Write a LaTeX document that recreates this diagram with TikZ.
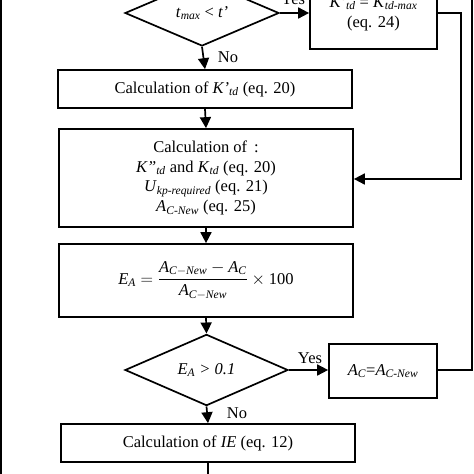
\documentclass[tikz,border=0pt]{standalone}
\usepackage{amsmath}
\usepackage{fontspec}
\setmainfont{Liberation Serif}
\usetikzlibrary{shapes.geometric,arrows.meta}
\newcommand{\sbi}[1]{\textsubscript{\textit{#1}}}
\begin{document}
\begin{tikzpicture}[x=1pt,y=1pt,
  txt/.style={font=\fontsize{16.5}{19.7}\selectfont},
  box/.style={txt,draw,line width=1.7pt,rectangle,inner sep=0pt,align=center},
  dia/.style={txt,draw,line width=1.7pt,diamond,inner sep=0pt,align=center},
  arr/.style={line width=1.7pt,-{Triangle[length=11pt,width=11pt]}},
  ln/.style={line width=1.7pt},
  lbl/.style={txt,inner sep=0pt}]
\useasboundingbox (0,0) rectangle (474,-474);
\clip (0,0) rectangle (474,-474);
% nodes
\node[dia,minimum width=154pt,minimum height=64pt] (d1) at (202,-13) {\textit{t}\sbi{max} < \textit{t'}};
\node[box,minimum width=127pt,minimum height=71pt] (kmax) at (373.5,-13.5) {\textit{K'}\sbi{td} = \textit{K}\sbi{td-max}\\(eq. 24)};
\node[box,minimum width=294pt,minimum height=38pt] (b1) at (205,-89) {Calculation of \textit{K'}\sbi{td} (eq. 20)};
\node[box,minimum width=294pt,minimum height=98pt] (b2) at (206,-178) {Calculation of \,:\\\textit{K"}\sbi{td} and \textit{K}\sbi{td} (eq. 20)\\\textit{U}\sbi{kp-required} (eq. 21)\\\textit{A}\sbi{C-New} (eq. 25)};
\node[box,minimum width=294pt,minimum height=73pt] (b3) at (206,-280.5) {$\textit{E}_{\textit{A}} = \dfrac{\textit{A}_{\textit{C}-\textit{New}} - \textit{A}_{\textit{C}}}{\textit{A}_{\textit{C}-\textit{New}}}\times\text{100}$};
\node[dia,minimum width=163pt,minimum height=66pt] (d2) at (206.5,-370) {\textit{E}\sbi{A} \textit{> 0.1}};
\node[box,minimum width=108pt,minimum height=54pt] (ac) at (383,-371) {\textit{A}\sbi{C}=\textit{A}\sbi{C-New}};
\node[box,minimum width=294pt,minimum height=38pt] (b4) at (208,-443) {Calculation of \textit{IE} (eq. 12)};
% labels
\node[lbl] (yes1) at (293,1) {Yes};
\node[lbl] (no1) at (228,-57) {No};
\node[lbl] (yes2) at (310,-358) {Yes};
\node[lbl] (no2) at (237,-413) {No};
% coordinates
\coordinate (r1) at (461,-12.7);
\coordinate (r1b) at (461,-179);
\coordinate (r2) at (472,-370);
\coordinate (r2t) at (472,10);
\coordinate (bot) at (208,-480);
\coordinate (lt) at (1,10);
\coordinate (lb) at (1,-484);
% connectors
\draw[arr] (d1.south) -- (b1.north);
\draw[arr] (d1.east) -- (kmax.west |- d1.east);
\draw[arr] (kmax.east |- r1) -- (r1) -- (r1b) -- (b2.east |- r1b);
\draw[arr] (b1.south) -- (b2.north);
\draw[arr] (b2.south) -- (b3.north);
\draw[arr] (b3.south) -- (d2.north);
\draw[arr] (d2.east) -- (ac.west |- d2.east);
\draw[ln] (ac.east |- r2) -- (r2) -- (r2t);
\draw[arr] (d2.south) -- (b4.north);
\draw[ln] (b4.south) -- (bot);
\draw[line width=2pt] (lt) -- (lb);
\end{tikzpicture}
\end{document}
